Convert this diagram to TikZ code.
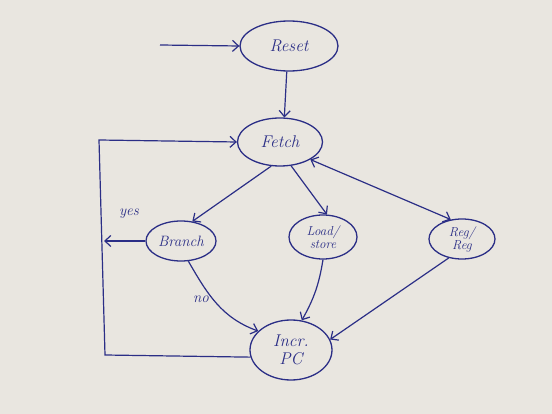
\documentclass[tikz,border=0pt]{standalone}
\usetikzlibrary{shapes.geometric,arrows.meta}
\definecolor{paper}{HTML}{E9E6E0}
\definecolor{ink}{HTML}{2B2E86}
\begin{document}
\begin{tikzpicture}[x=1pt,y=-1pt,
  state/.style={draw=ink, line width=1.3pt, ellipse, inner sep=0pt, text=ink, font=\itshape\fontsize{17}{18}\selectfont, align=center},
  small/.style={font=\itshape\fontsize{13}{13}\selectfont},
  conn/.style={draw=ink, line width=1.2pt, -{Straight Barb[length=6pt,width=11pt]}},
  lbl/.style={text=ink, font=\itshape\fontsize{15}{16}\selectfont}]
\fill[paper] (0,0) rectangle (552,414);
\useasboundingbox (0,0) rectangle (552,414);
\node[state, minimum width=98, minimum height=50] (reset) at (289,46) {Reset};
\node[state, minimum width=85, minimum height=48] (fetch) at (280,142) {Fetch};
\node[state, minimum width=70, minimum height=40, font=\itshape\fontsize{15}{16}\selectfont] (branch) at (181,241) {Branch};
\node[state, small, minimum width=68, minimum height=44] (ls) at (323,237) {Load/\\store};
\node[state, small, minimum width=66, minimum height=40] (rr) at (462,239) {Reg/\\Reg};
\node[state, minimum width=82, minimum height=60] (pc) at (291,350) {Incr.\\PC};
\coordinate (start) at (160,45);
\coordinate (yesend) at (104,241);
\coordinate (bl) at (105,355);
\coordinate (tl) at (99,140);
\node[lbl] (yes) at (129,214) {yes};
\node[lbl] (no) at (201,299) {no};
\draw[conn] (start) -- (reset.west);
\draw[conn] (reset.265) -- (fetch.80);
\draw[conn] (fetch.250) -- (branch.60);
\draw[conn] (fetch.295) -- (ls.80);
\draw[conn, {Straight Barb[length=6pt,width=11pt]}-{Straight Barb[length=6pt,width=11pt]}] (fetch.330) -- (rr.120);
\draw[conn] (branch.west) -- (yesend);
\draw[conn] (branch.290) to[out=-60,in=160] (pc.150);
\draw[conn] (ls.south) to[bend left=10] (pc.70);
\draw[conn] (rr.235) -- (pc.15);
\draw[conn] (pc.190) -- (bl) -- (tl) -- (fetch.west);
\end{tikzpicture}
\end{document}
